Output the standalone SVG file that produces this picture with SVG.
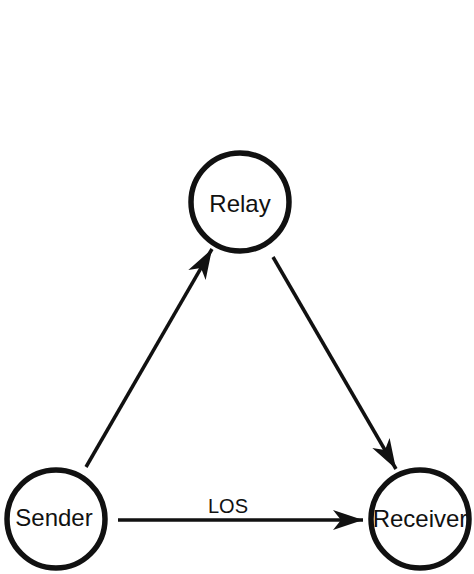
<svg xmlns="http://www.w3.org/2000/svg" width="474" height="574" viewBox="0 0 474 574">
<style>
.node circle{fill:#fff;stroke:#111;stroke-width:5.5}
.node text{font-family:"Liberation Sans",Arial,sans-serif;font-size:24px;fill:#111;text-anchor:middle}
.edge{stroke:#111;stroke-width:3.5;fill:none}
.lbl{font-family:"Liberation Sans",Arial,sans-serif;font-size:20px;fill:#111;text-anchor:middle}
</style>
<defs>
<marker id="arr" markerUnits="userSpaceOnUse" markerWidth="36" markerHeight="26" viewBox="-32 -13 36 26" refX="0" refY="0" orient="auto">
<path d="M0,0 L-30,-10 L-22,0 L-30,10 Z" fill="#111"/>
</marker>
</defs>
<rect width="474" height="574" fill="#fff"/>
<g id="connectors">
<line class="edge" x1="86" y1="467" x2="212" y2="249" marker-end="url(#arr)"/>
<line class="edge" x1="273" y1="257" x2="396" y2="469" marker-end="url(#arr)"/>
<line class="edge" x1="118" y1="520" x2="363" y2="520" marker-end="url(#arr)"/>
<text class="lbl" x="228" y="513">LOS</text>
</g>
<g id="relay" class="node">
<circle cx="240" cy="202" r="49"/>
<text x="240" y="212">Relay</text>
</g>
<g id="sender" class="node">
<circle cx="56" cy="519" r="49"/>
<text x="54" y="526">Sender</text>
</g>
<g id="receiver" class="node">
<circle cx="420" cy="519" r="49"/>
<text x="420" y="527">Receiver</text>
</g>
</svg>
